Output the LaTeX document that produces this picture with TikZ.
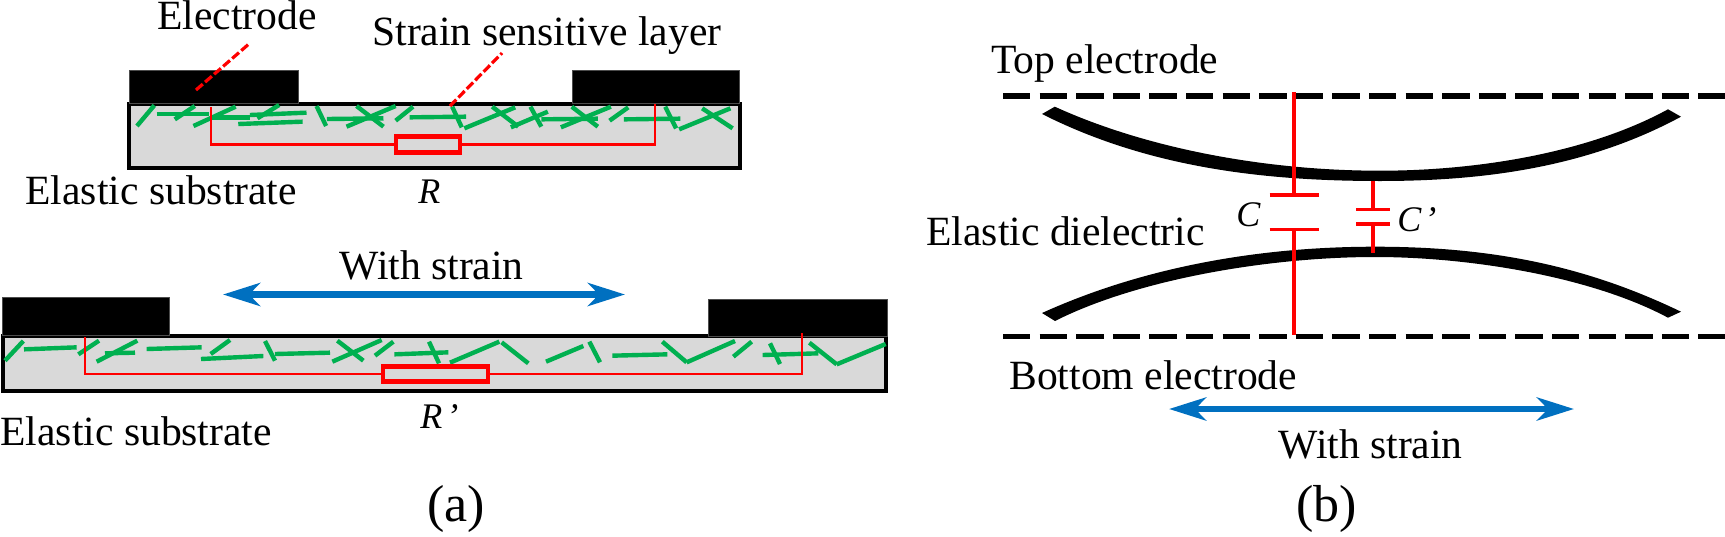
\documentclass[tikz,border=0pt]{standalone}
\usepackage{fontspec}
\setmainfont{Liberation Serif}
\usetikzlibrary{arrows.meta}
\definecolor{fgreen}{HTML}{00B050}
\definecolor{sblue}{HTML}{0070C0}
\definecolor{sgray}{HTML}{D9D9D9}
\tikzset{
 lbl/.style={anchor=base west,inner sep=0pt,font=\fontsize{20.8}{24}\selectfont},
 sublabel/.style={anchor=base west,inner sep=0pt,font=\fontsize{26}{30}\selectfont},
 sym/.style={anchor=base west,inner sep=0pt,font=\fontsize{18}{22}\itshape\selectfont},
 substrate/.style={draw=black,fill=sgray,line width=2pt},
 electrode/.style={fill=black,draw=black!70,line width=.4pt},
 fiber/.style={draw=fgreen,line width=2.2pt},
 wire/.style={draw=red,line width=1.4pt},
 resistor/.style={draw=red,line width=2.4pt},
 plate/.style={draw=red,line width=1.6pt},
 leader/.style={draw=red,line width=1.6pt,dash pattern=on 4.5pt off 1.5pt},
 strain/.style={draw=sblue,line width=3.4pt,{Stealth[length=18.5pt,width=11.5pt,inset=5.5pt]}-{Stealth[length=18.5pt,width=11.5pt,inset=5.5pt]}},
 edash/.style={draw=black,line width=2.6pt,dash pattern=on 13.7pt off 4.6pt},
 bent/.style={fill=black},
}
\begin{document}
\begin{tikzpicture}[x=0.5pt,y=-0.5pt]
\useasboundingbox (0,0) rectangle (1725,536);
% ---- (a) upper
\draw[substrate] (129,104) rectangle (740,168);
\fill[electrode] (129,70) rectangle (298,103);
\fill[electrode] (572,70) rectangle (739,103);
\begin{scope}[shift={(100,0)},x=0.21739pt,y=-0.16667pt]
\foreach \a/\b/\c/\d in {85/378/125/316,130/342/250/342,172/358/218/318,215/378/312/320,255/353/345/353,345/345/475/338,362/355/412/315,318/372/466/365,498/318/520/378,522/357/652/355,567/380/680/318,590/318/652/380,680/362/720/320,712/352/842/350,810/320/832/382,838/385/955/322,902/320/962/380,945/382/1030/335,990/320/1015/380,1015/358/1145/356,1060/382/1175/320,1085/320/1145/380,1172/362/1215/322,1205/358/1335/356,1300/320/1325/385,1332/388/1450/325,1385/325/1455/385}
 \draw[fiber] (\a,\b) -- (\c,\d);
\end{scope}
\node[resistor,inner sep=0pt,minimum width=32pt,minimum height=8pt] (R1) at (428,144.5) {};
\coordinate (w1a) at (211,107); \coordinate (w1b) at (655,104);
\draw[wire] (w1a) |- (R1.west);
\draw[wire] (R1.east) -| (w1b);
\node[lbl] (lElectrode) at (157,29.5) {Electrode};
\node[lbl] (lStrain) at (372,45) {Strain sensitive layer};
\coordinate (c1) at (196,90); \coordinate (c2) at (250,43);
\coordinate (c3) at (450,106); \coordinate (c4) at (502,53);
\draw[leader] (c1) -- (c2);
\draw[leader] (c3) -- (c4);
\node[lbl] (lSub1) at (25,204) {Elastic substrate};
\node[sym] (lR) at (418,203) {R};
% ---- (a) lower
\coordinate (s1) at (223,294.5); \coordinate (s2) at (625,294.5);
\draw[strain] (s1) -- (s2);
\node[lbl] (lStrainA) at (339,279) {With strain};
\draw[substrate] (3.3,336) rectangle (886,390.5);
\fill[electrode] (2,297) rectangle (169,335);
\fill[electrode] (708,299) rectangle (887,336);
\begin{scope}[shift={(0,270)},x=0.16667pt,y=-0.16667pt]
\foreach \a/\b/\c/\d in {15/272/70/213,72/238/230/232,235/253/297/212,290/275/412/212,315/250/405/248,440/237/605/232,632/252/690/210,603/267/790/258,795/213/825/272,825/252/990/248,997/275/1145/210,1012/212/1090/272,1125/257/1180/215,1183/253/1345/247,1287/215/1317/280}
 \draw[fiber] (\a,\b) -- (\c,\d);
\end{scope}
\begin{scope}[shift={(440,270)},x=0.16667pt,y=-0.16667pt]
\foreach \a/\b/\c/\d in {30/278/178/215,185/217/265/280,318/275/430/228,448/215/480/277,517/257/682/253,667/215/740/277,740/277/885/213,880/260/935/215,968/255/1135/250,990/220/1020/282,1108/218/1190/283,1190/283/1337/222}
 \draw[fiber] (\a,\b) -- (\c,\d);
\end{scope}
\node[resistor,inner sep=0pt,minimum width=52.5pt,minimum height=7.5pt] (R2) at (435.5,374) {};
\coordinate (w2a) at (85,337); \coordinate (w2b) at (802,333);
\draw[wire] (w2a) |- (R2.west);
\draw[wire] (R2.east) -| (w2b);
\node[sym] (lR2) at (420,428) {R\kern2pt’};
\node[lbl] (lSub2) at (0,445) {Elastic substrate};
\node[sublabel] (la) at (427,521) {(a)};
% ---- (b)
\coordinate (d1) at (1003,96); \coordinate (d2) at (1725,96);
\coordinate (d3) at (1003,336.5); \coordinate (d4) at (1725,336.5);
\draw[edash] (d1) -- (d2);
\draw[edash] (d3) -- (d4);
\fill[bent] (1054.8,106.7) .. controls (1150,150) and (1270,170.7) .. (1380,170.7) .. controls (1480,170.7) and (1590,152) .. (1668,109.3) -- (1681,116.7) .. controls (1586,168) and (1482,181) .. (1380,181) .. controls (1265,181) and (1149,168) .. (1042,114) -- cycle;
\fill[bent] (1042,313) .. controls (1148,265) and (1265,246.7) .. (1375,246.7) .. controls (1490,246.7) and (1584,265) .. (1681,311.7) -- (1668,317.7) .. controls (1592,277) and (1471,257) .. (1375,257) .. controls (1270,257) and (1138,279) .. (1055,321) -- cycle;
\coordinate (ca) at (1294,92.3); \coordinate (cb) at (1294,195);
\coordinate (cc) at (1294,229.3); \coordinate (cd) at (1294,335);
\coordinate (pa) at (1373,180.7); \coordinate (pb) at (1373,209.5);
\coordinate (pc) at (1373,224); \coordinate (pd) at (1373,253.3);
\draw[plate] (ca) -- (cb);
\draw[plate] (cc) -- (cd);
\draw[plate] (1269.5,195) -- (1318.6,195);
\draw[plate] (1269.5,229.3) -- (1318.6,229.3);
\draw[plate] (pa) -- (pb);
\draw[plate] (pc) -- (pd);
\draw[plate] (1356,209.5) -- (1390,209.5);
\draw[plate] (1356,224) -- (1390,224);
\node[sym] (lC) at (1236,226.5) {C};
\node[sym] (lCp) at (1397,231) {C\kern1.5pt’};
\node[lbl] (lTop) at (991,73) {Top electrode};
\node[lbl] (lDiel) at (926,245) {Elastic dielectric};
\node[lbl] (lBot) at (1009,389) {Bottom electrode};
\coordinate (s3) at (1169,409); \coordinate (s4) at (1574,409);
\draw[strain] (s3) -- (s4);
\node[lbl] (lStrainB) at (1278,458) {With strain};
\node[sublabel] (lb) at (1296,521) {(b)};
\end{tikzpicture}
\end{document}
